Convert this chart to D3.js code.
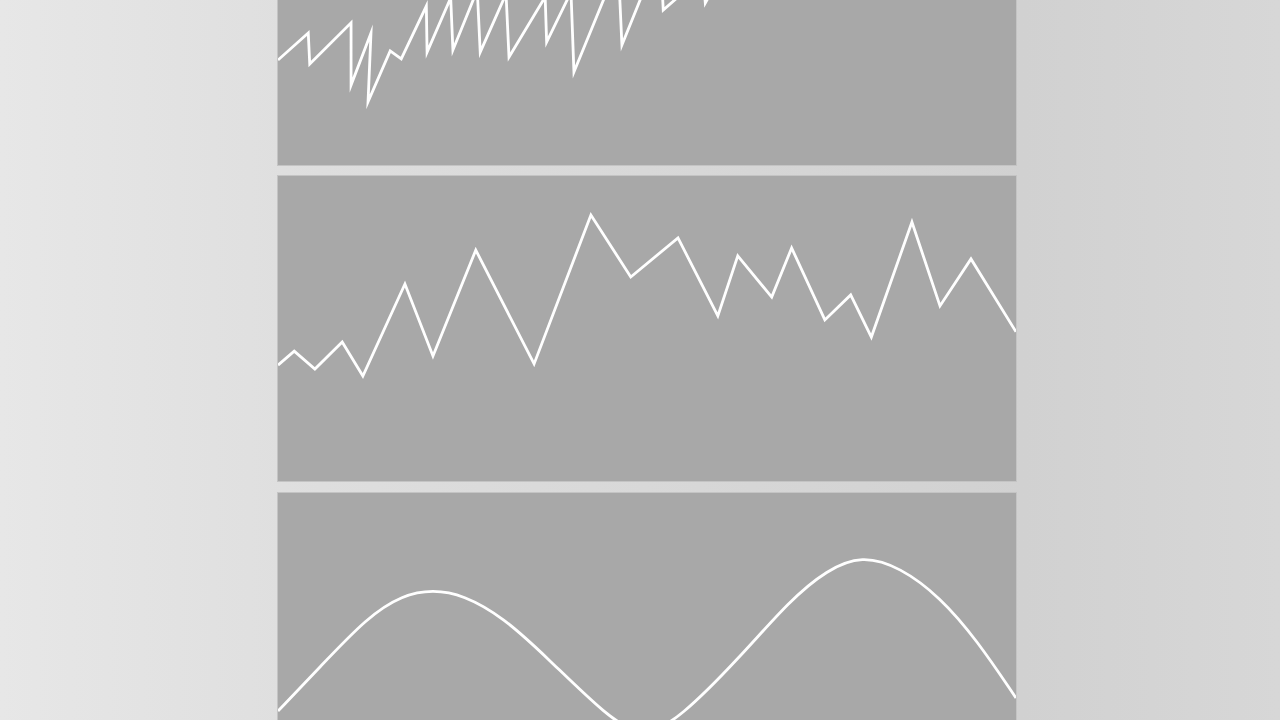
<!DOCTYPE html>
<html>
<head>
<meta charset="utf-8">
<script src="https://cdn.jsdelivr.net/npm/d3@7"></script>
<style>
  html, body { margin: 0; padding: 0; width: 1280px; height: 720px; overflow: hidden; }
  svg { display: block; }
</style>
</head>
<body>
<svg id="chart" width="1280" height="720"></svg>
<script>
// ---- data (x in 0..100, y in 0..100 per panel) ----
const topX = [0, 4.1, 4.3, 9.9, 9.9, 12.6, 12.2, 15.2, 16.7, 20.1, 20.2, 23.4, 23.7, 27.0, 27.4, 30.9, 31.3, 36.2, 36.4, 39.7, 40.1, 46.1, 46.6, 51.8, 52.2, 57.6, 57.9, 62.6, 63.0, 68.0, 68.6, 74.1, 74.5, 80.2, 80.6, 86.3, 86.7, 92.4, 92.8, 100];
const topY = [34.4, 43.3, 33.1, 46.6, 26.2, 43.3, 20.7, 37.4, 34.8, 52.1, 37.0, 54.8, 37.7, 57.4, 37.0, 56.1, 35.4, 55.1, 40.3, 56.7, 30.5, 65.9, 39.3, 70.5, 50.8, 62.3, 53.1, 73.8, 57.4, 77.0, 59.0, 80.3, 60.7, 83.6, 62.3, 85.2, 63.9, 86.9, 67.2, 90.2];

const midX = [0, 2.2, 5.0, 8.7, 11.5, 17.2, 21.0, 26.8, 34.7, 42.4, 47.8, 54.2, 59.6, 62.3, 66.9, 69.6, 74.1, 77.6, 80.4, 85.9, 89.7, 93.9, 100];
const midY = [38.0, 42.6, 36.7, 45.6, 34.4, 64.6, 41.0, 75.7, 38.4, 87.2, 66.9, 79.7, 54.1, 73.8, 60.3, 76.4, 52.8, 61.0, 47.2, 84.9, 57.4, 72.8, 48.9];

const botX = [0, 5.7, 12.1, 16.9, 21.0, 25.1, 30.5, 36.4, 44.6, 49.5, 54.5, 62.6, 69.4, 74.4, 79.1, 84.3, 89.7, 94.7, 100];
const botY = [28.5, 43.0, 59.3, 66.6, 68.3, 66.6, 59.3, 46.2, 26.6, 19.7, 26.2, 46.2, 64.9, 74.8, 79.6, 75.7, 65.9, 51.8, 32.8];

// ---- layout ----
const W = 1280, H = 720;
const panelLeft = 278, panelRight = 1016;
const panelH = 305;
const panelTops = [-140, 176, 493];

const svg = d3.select("#chart");
const defs = svg.append("defs");
const bg = defs.append("linearGradient").attr("id", "bg").attr("x1", "0%").attr("x2", "100%").attr("y1", "0%").attr("y2", "0%");
bg.append("stop").attr("offset", "0%").attr("stop-color", "#e7e7e7");
bg.append("stop").attr("offset", "25%").attr("stop-color", "#dedede");
bg.append("stop").attr("offset", "80%").attr("stop-color", "#d1d1d1");
bg.append("stop").attr("offset", "100%").attr("stop-color", "#d7d7d7");
svg.append("rect").attr("width", W).attr("height", H).attr("fill", "url(#bg)");

const x = d3.scaleLinear().domain([0, 100]).range([panelLeft, panelRight]);

const series = [
  { xs: topX, ys: topY, curve: d3.curveLinear },
  { xs: midX, ys: midY, curve: d3.curveLinear },
  { xs: botX, ys: botY, curve: d3.curveBasis }
];

series.forEach((s, i) => {
  const top = panelTops[i];
  const y = d3.scaleLinear().domain([0, 100]).range([top + panelH, top]);
  const id = "clip" + i;
  defs.append("clipPath").attr("id", id)
    .append("rect").attr("x", panelLeft).attr("y", top).attr("width", panelRight - panelLeft).attr("height", panelH);

  const g = svg.append("g");
  g.append("rect")
    .attr("x", panelLeft - 1).attr("y", top - 1)
    .attr("width", panelRight - panelLeft + 2).attr("height", panelH + 2)
    .attr("fill", "#c4c4c4");
  g.append("rect")
    .attr("x", panelLeft).attr("y", top)
    .attr("width", panelRight - panelLeft).attr("height", panelH)
    .attr("fill", "#a8a8a8");

  const pts = s.xs.map((v, k) => [v, s.ys[k]]);
  const line = d3.line().x(d => x(d[0])).y(d => y(d[1])).curve(s.curve);
  g.append("path")
    .attr("clip-path", `url(#${id})`)
    .attr("d", line(pts))
    .attr("fill", "none")
    .attr("stroke", "#ffffff")
    .attr("stroke-width", 2.8)
    .attr("stroke-linejoin", "miter")
    .attr("stroke-miterlimit", 10);
});
</script>
</body>
</html>
